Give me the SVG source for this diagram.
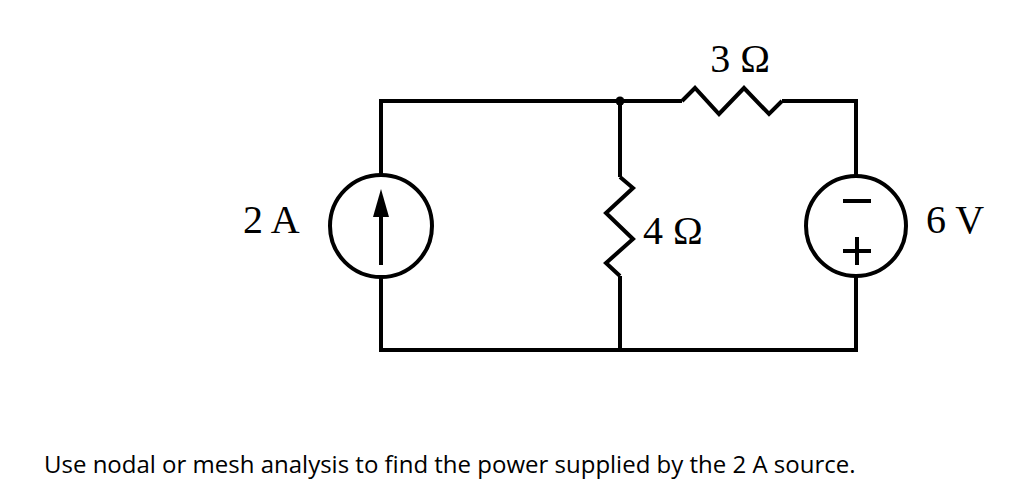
<svg xmlns="http://www.w3.org/2000/svg" width="1024" height="495" viewBox="0 0 1024 495">
<style>
.w{fill:none;stroke:#000;stroke-width:4;stroke-linejoin:miter}
.l{font-family:"Liberation Serif",serif;font-size:40px;fill:#000}
</style>
<rect width="1024" height="495" fill="#fff"/>
<g id="wires" class="w">
<polyline points="381,175 381,101 682,101"/>
<polyline points="782,101 856,101 856,175"/>
<polyline points="381,277 381,350 856,350 856,277"/>
<line x1="620" y1="101" x2="620" y2="177"/>
<line x1="620" y1="276" x2="620" y2="350"/>
</g>
<circle cx="620" cy="101" r="4.5" fill="#000"/>
<g id="R3"><polyline class="w" points="682,101 695,88 719,114 744,88 769,114 782,101"/><text class="l" x="740" y="72" text-anchor="middle">3 Ω</text></g>
<g id="R4"><polyline class="w" points="620,177 633,188 606,213 633,239 606,263 620,276"/><text class="l" x="643" y="244">4 Ω</text></g>
<g id="I2"><circle class="w" cx="381" cy="226" r="51"/><line class="w" x1="381" y1="265" x2="381" y2="212"/><polygon points="381,189 373,217 389,217"/><text class="l" x="243" y="233">2 A</text></g>
<g id="V6"><circle class="w" cx="856" cy="226" r="50"/><line class="w" x1="843" y1="201" x2="871" y2="201"/><line class="w" x1="843" y1="251" x2="871" y2="251"/><line class="w" x1="857" y1="237" x2="857" y2="265"/><text class="l" x="926" y="233">6 V</text></g>
<text x="44" y="473" font-family="Open Sans,sans-serif" font-size="24">Use nodal or mesh analysis to find the power supplied by the 2 A source.</text>
</svg>
